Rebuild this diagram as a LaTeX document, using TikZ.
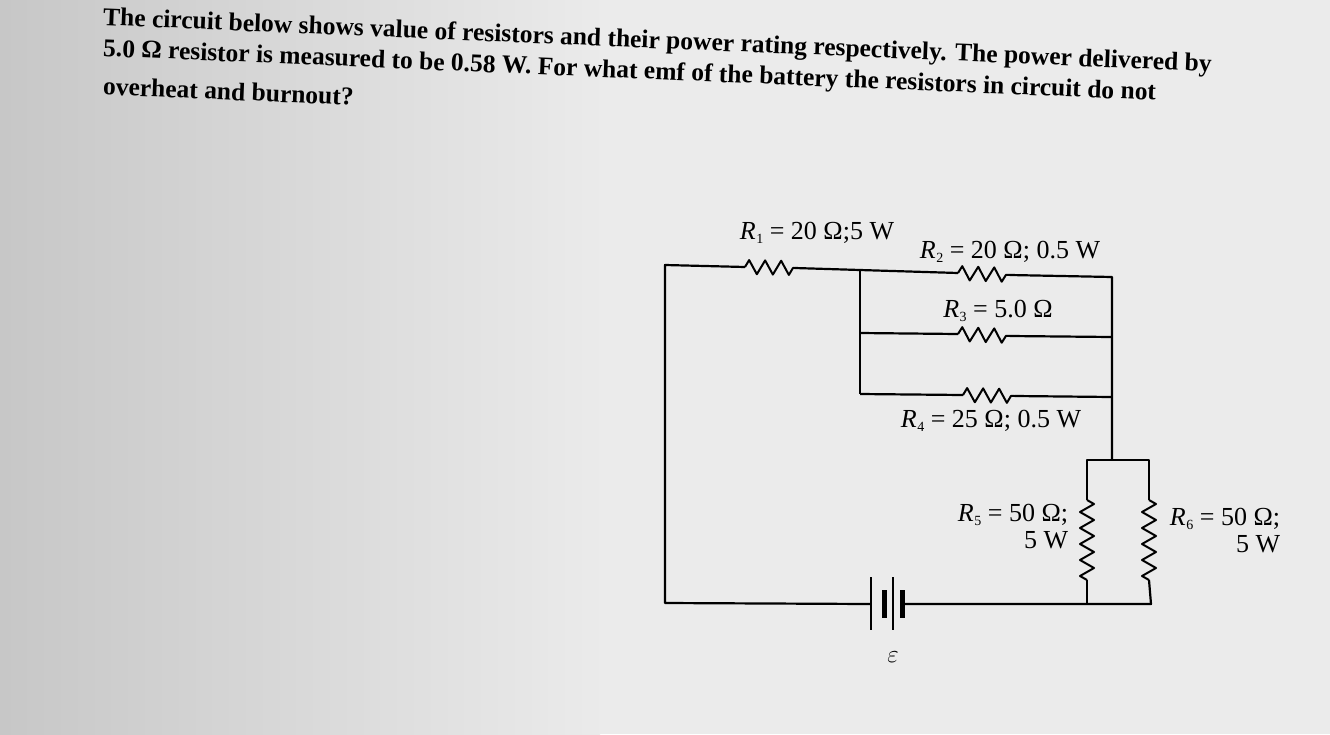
\documentclass[tikz,border=0pt]{standalone}
\usepackage{fontspec}
\setmainfont{Liberation Serif}
\usetikzlibrary{decorations.pathmorphing}
\newcommand{\Rs}[1]{\textit{R}\kern0.5pt\raisebox{-0.3ex}{\fontsize{14}{14}\selectfont #1}}
\begin{document}
\begin{tikzpicture}[x=1pt,y=-1pt,
  wire/.style={line width=2.2pt,line join=round},
  res/.style={line width=2pt,line join=round,decorate,decoration={zigzag,amplitude=7pt,segment length=16pt}},
  lab/.style={font=\fontsize{26}{27}\selectfont,inner sep=0pt},
  head/.style={font=\fontsize{25.5}{27}\selectfont\bfseries,inner sep=0pt,anchor=west,rotate=-2.4}]
\shade[left color=black!22,right color=black!8] (0,0) rectangle (600,734);
\fill[black!8] (600,0) rectangle (1330,734);
\useasboundingbox (0,0) rectangle (1330,734);
% header
\node[head] (h1) at (103,19) {The circuit below shows value of resistors and their power rating respectively. The power delivered by};
\node[head] (h2) at (103,50) {5.0 Ω resistor is measured to be 0.58 W. For what emf of the battery the resistors in circuit do not};
\node[head] (h3) at (103,86) {overheat and burnout?};
% coordinates
\coordinate (tl) at (665,265);
\coordinate (bl) at (665,603);
\coordinate (r1a) at (745,267);
\coordinate (r1b) at (795,268);
\coordinate (j1) at (860,270);
\coordinate (r2a) at (958,273);
\coordinate (r2b) at (1010,275);
\coordinate (j2) at (1112,277);
\coordinate (j3a) at (860,333);
\coordinate (r3a) at (958,334);
\coordinate (r3b) at (1010,336);
\coordinate (j3b) at (1112,337);
\coordinate (j4a) at (860,394);
\coordinate (r4a) at (963,395);
\coordinate (r4b) at (1015,396);
\coordinate (j4b) at (1112,397);
\coordinate (j5) at (1112,460);
\coordinate (bx1) at (1087,460);
\coordinate (bx2) at (1149,460);
\coordinate (r5a) at (1087,500);
\coordinate (r5b) at (1087,580);
\coordinate (r6a) at (1149,500);
\coordinate (r6b) at (1149,580);
\coordinate (b5) at (1087,604);
\coordinate (b6) at (1151,604);
\coordinate (bat1) at (870,604);
\coordinate (bat2) at (900,604);
% wires
\draw[wire] (r1a) -- (tl) -- (bl) -- (bat1);
\draw[wire] (r1b) -- (j1) -- (r2a);
\draw[wire] (r2b) -- (j2) -- (j3b) -- (j4b) -- (j5);
\draw[wire] (j1) -- (j3a) -- (j4a);
\draw[wire] (j3a) -- (r3a); \draw[wire] (r3b) -- (j3b);
\draw[wire] (j4a) -- (r4a); \draw[wire] (r4b) -- (j4b);
\draw[wire] (r5a) -- (bx1) -- (bx2) -- (r6a);
\draw[wire] (r5b) -- (b5); \draw[wire] (r6b) -- (b6) -- (bat2);
% resistors
\draw[res] (r1a) -- (r1b);
\draw[res] (r2a) -- (r2b);
\draw[res] (r3a) -- (r3b);
\draw[res] (r4a) -- (r4b);
\draw[res] (r5a) -- (r5b);
\draw[res] (r6a) -- (r6b);
% battery
\draw[line width=2pt] (871,577) -- (871,630);
\draw[line width=5pt] (884,590) -- (884,618);
\draw[line width=2pt] (893,577) -- (893,630);
\draw[line width=5pt] (902,590) -- (902,618);
% labels
\node[lab] (l1) at (817,233) {\Rs{1} = 20 Ω;5 W};
\node[lab] (l2) at (1010,252) {\Rs{2} = 20 Ω; 0.5 W};
\node[lab] (l3) at (998,311) {\Rs{3} = 5.0 Ω};
\node[lab] (l4) at (991,421) {\Rs{4} = 25 Ω; 0.5 W};
\node[lab,align=right] (l5) at (1013,527) {\Rs{5} = 50 Ω;\\5 W};
\node[lab,align=right] (l6) at (1225,531) {\Rs{6} = 50 Ω;\\5 W};
\node[lab] (eps) at (893,657) {$\varepsilon$};
\end{tikzpicture}
\end{document}
